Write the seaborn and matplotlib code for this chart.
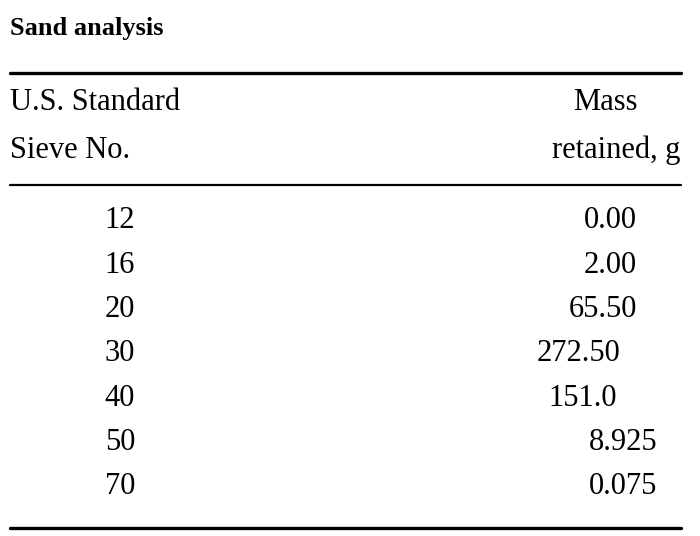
import matplotlib
matplotlib.use("Agg")
import matplotlib.pyplot as plt
import seaborn as sns

sns.set_style("white")
plt.rcParams['font.family'] = ['Liberation Serif', 'DejaVu Serif']
plt.rcParams['text.color'] = 'black'

title = "Sand analysis"
col_headers = ["U.S. Standard\nSieve No.", "Mass\nretained, g"]
sieve_no = ["12", "16", "20", "30", "40", "50", "70"]
mass = ["0.00", "2.00", "65.50", "272.50", "151.0", "8.925", "0.075"]
mass_right = [637, 637, 637, 620, 617, 657, 657]  # layout: right edge per row

fig = plt.figure(figsize=(7, 5.36), dpi=100)
ax = fig.add_axes([0, 0, 1, 1])
ax.set_xlim(0, 700)
ax.set_ylim(536, 0)
ax.axis("off")

fs = 22
ax.text(10, 28, title, fontsize=19, fontweight="bold", va="center", ha="left", color="black")
ax.plot([10, 681], [73, 73], color="black", lw=2.4)
ax.text(10, 103, col_headers[0].split("\n")[0], fontsize=fs, va="center", ha="left", color="black")
ax.text(10, 150, col_headers[0].split("\n")[1], fontsize=fs, va="center", ha="left", color="black")
ax.text(638, 103, col_headers[1].split("\n")[0], fontsize=fs, va="center", ha="right", color="black")
ax.text(681, 150, col_headers[1].split("\n")[1], fontsize=fs, va="center", ha="right", color="black")
ax.plot([10, 681], [185, 185], color="black", lw=1.6)

y0, dy = 221, 44.3
for i, (s, m) in enumerate(zip(sieve_no, mass)):
    y = y0 + i * dy
    ax.text(120, y, s, fontsize=fs, va="center", ha="center", color="black")
    ax.text(mass_right[i], y, m, fontsize=fs, va="center", ha="right", color="black")
ax.plot([10, 681], [528, 528], color="black", lw=2.4)

fig.savefig("out.png", dpi=100)
